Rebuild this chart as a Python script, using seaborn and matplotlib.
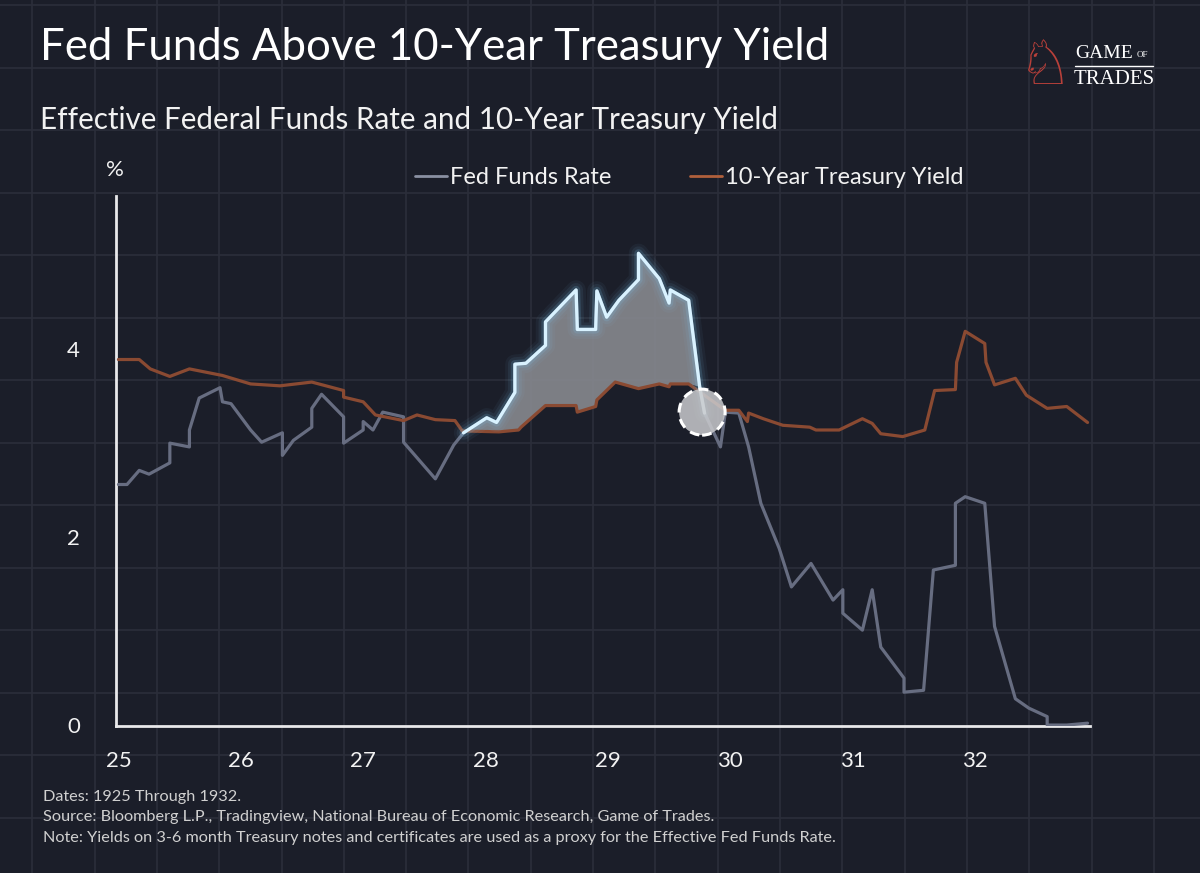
import numpy as np
import pandas as pd
import matplotlib
matplotlib.use("Agg")
import matplotlib.pyplot as plt
from matplotlib.patches import Ellipse
from matplotlib.lines import Line2D
import seaborn as sns

# Data (time in years since 1925)
fed_t = [0.00, 0.07, 0.17, 0.25, 0.42, 0.42, 0.58, 0.58, 0.66, 0.83, 0.85, 0.92, 1.08, 1.17,
         1.34, 1.34, 1.43, 1.58, 1.58, 1.66, 1.84, 1.84, 2.00, 2.00, 2.08, 2.16, 2.33, 2.33,
         2.59, 2.74, 2.82, 3.01, 3.09, 3.24, 3.24, 3.33, 3.49, 3.49, 3.74, 3.75, 3.90, 3.91,
         3.99, 4.09, 4.25, 4.25, 4.42, 4.50, 4.51, 4.66, 4.75, 4.79, 4.92, 4.96, 5.07, 5.15,
         5.25, 5.40, 5.50, 5.66, 5.84, 5.92, 5.92, 6.08, 6.16, 6.23, 6.42, 6.42, 6.58, 6.66,
         6.84, 6.84, 6.92, 7.08, 7.16, 7.33, 7.44, 7.59, 7.59, 7.75, 7.92]
fed_rate = [2.56, 2.56, 2.71, 2.67, 2.79, 3.00, 2.96, 3.14, 3.48, 3.59, 3.44, 3.42, 3.14, 3.01,
            3.11, 2.87, 3.03, 3.17, 3.37, 3.52, 3.28, 3.00, 3.14, 3.23, 3.14, 3.33, 3.28, 3.01,
            2.62, 2.98, 3.11, 3.27, 3.22, 3.54, 3.84, 3.85, 4.04, 4.29, 4.63, 4.21, 4.21, 4.62,
            4.34, 4.52, 4.74, 5.02, 4.75, 4.49, 4.63, 4.52, 3.60, 3.32, 2.96, 3.33, 3.32, 2.96,
            2.36, 1.88, 1.47, 1.72, 1.33, 1.44, 1.19, 1.01, 1.44, 0.83, 0.50, 0.35, 0.37, 1.65,
            1.70, 2.36, 2.43, 2.36, 1.05, 0.28, 0.18, 0.09, 0.00, 0.00, 0.02]

tsy_t = [0.00, 0.17, 0.26, 0.42, 0.58, 0.85, 1.08, 1.32, 1.58, 1.84, 1.84, 2.00, 2.10, 2.33,
         2.44, 2.59, 2.75, 2.81, 3.11, 3.27, 3.29, 3.49, 3.74, 3.75, 3.90, 3.91, 4.06, 4.25,
         4.42, 4.50, 4.51, 4.66, 4.96, 5.07, 5.14, 5.15, 5.27, 5.43, 5.65, 5.70, 5.89, 6.08,
         6.16, 6.23, 6.41, 6.59, 6.67, 6.84, 6.85, 6.92, 7.08, 7.09, 7.16, 7.33, 7.42, 7.59,
         7.75, 7.92]
tsy_yield = [3.89, 3.89, 3.79, 3.71, 3.79, 3.72, 3.63, 3.61, 3.65, 3.56, 3.49, 3.44, 3.30, 3.24,
             3.30, 3.25, 3.24, 3.13, 3.12, 3.14, 3.17, 3.40, 3.40, 3.33, 3.39, 3.46, 3.65, 3.58,
             3.63, 3.60, 3.63, 3.63, 3.35, 3.35, 3.23, 3.32, 3.26, 3.19, 3.17, 3.14, 3.14, 3.26,
             3.21, 3.10, 3.07, 3.14, 3.56, 3.57, 3.86, 4.19, 4.06, 3.86, 3.62, 3.69, 3.51, 3.37,
             3.39, 3.22]

year_ticks = [1925, 1926, 1927, 1928, 1929, 1930, 1931, 1932]
year_labels = ["25", "26", "27", "28", "29", "30", "31", "32"]
y_ticks = [0, 2, 4]

# period where fed funds sat above the 10y yield
hl_start, hl_end = 1927.82, 1929.79
cross_point = (1929.77, 3.33)

BG = "#1b1e29"
GRID = "#2b2e3a"
FED_C = "#676d81"
TSY_C = "#8a4a32"
TXT = "#f2f2f2"

fed = pd.DataFrame({"date": np.array(fed_t) + 1925, "rate": fed_rate})
tsy = pd.DataFrame({"date": np.array(tsy_t) + 1925, "rate": tsy_yield})

sns.set_style("dark")
plt.rcParams["font.family"] = ["Lato", "DejaVu Sans"]

fig = plt.figure(figsize=(12, 8.73), dpi=100, facecolor=BG)

# background grid over the whole figure
bg = fig.add_axes([0, 0, 1, 1], zorder=-5)
bg.set_facecolor(BG)
bg.set_xlim(0, 1200)
bg.set_ylim(873, 0)
bg.set_xticks(np.arange(32.4, 1200, 62.3))
bg.set_yticks(np.arange(5, 873, 62.5))
bg.grid(True, color=GRID, lw=1.2)
bg.tick_params(length=0, labelbottom=False, labelleft=False)
for s in bg.spines.values():
    s.set_visible(False)

ax = fig.add_axes([116 / 1200, 1 - 726 / 873, 974 / 1200, 530 / 873])
ax.set_facecolor("none")
xmin, xmax, ymin, ymax = 1924.98, 1932.94, -0.01, 5.63

sns.lineplot(data=fed, x="date", y="rate", ax=ax, color=FED_C, lw=2.3,
             estimator=None, sort=False, zorder=3)
sns.lineplot(data=tsy, x="date", y="rate", ax=ax, color=TSY_C, lw=2.3,
             estimator=None, sort=False, zorder=4)

# shaded gap between the two series
f_in = fed[(fed.date >= hl_start) & (fed.date <= 1929.75)]
t_in = tsy[(tsy.date >= 1927.81) & (tsy.date <= 1929.66)]
ax.fill(np.r_[f_in.date.values, t_in.date.values[::-1]],
        np.r_[f_in.rate.values, t_in.rate.values[::-1]],
        color="#87898f", alpha=0.9, lw=0, zorder=2)

# glowing highlight on the fed funds line
hl = fed[(fed.date >= hl_start) & (fed.date <= hl_end)]
for w, a in [(14, 0.05), (10, 0.08), (6, 0.16)]:
    ax.plot(hl.date, hl.rate, color="#7ec9f2", lw=w, alpha=a, zorder=5,
            solid_joinstyle="round", solid_capstyle="round")
ax.plot(hl.date, hl.rate, color="#d9f2ff", lw=2.4, zorder=6)

# crossover marker, sized in pixels so it stays round
w_data = 46 * (xmax - xmin) / 974
h_data = 46 * (ymax - ymin) / 530
ax.add_patch(Ellipse(cross_point, w_data, h_data, zorder=7,
                     facecolor="#c9cacd", alpha=0.85, edgecolor="none"))
ax.add_patch(Ellipse(cross_point, w_data, h_data, zorder=8, facecolor="none",
                     edgecolor="white", lw=2.2, linestyle=(0, (3.2, 2.2))))

ax.set_xlim(xmin, xmax)
ax.set_ylim(ymin, ymax)
ax.set_xticks(year_ticks)
ax.set_xticklabels(year_labels)
ax.set_yticks(y_ticks)
ax.set_xlabel("")
ax.set_ylabel("")
ax.grid(False)
ax.tick_params(axis="both", length=0, colors=TXT, labelsize=16)
ax.tick_params(axis="x", pad=18)
ax.tick_params(axis="y", pad=26)
for s in ["top", "right"]:
    ax.spines[s].set_visible(False)
for s in ["left", "bottom"]:
    ax.spines[s].set_visible(True)
    ax.spines[s].set_color("#e8e8ea")
    ax.spines[s].set_linewidth(2)

ax.text(-0.001, 1.05, "%", transform=ax.transAxes, ha="center", va="center",
        color=TXT, fontsize=16)

leg = ax.legend(handles=[Line2D([], [], color="#8a90a2", lw=2),
                         Line2D([], [], color="#b0603c", lw=2)],
                labels=["Fed Funds Rate", "10-Year Treasury Yield"],
                loc="center left", bbox_to_anchor=(0.307, 1.034), ncol=2,
                frameon=False, fontsize=17, handlelength=1.35, handletextpad=0.15,
                columnspacing=3.3, borderpad=0, borderaxespad=0)
for t in leg.get_texts():
    t.set_color(TXT)

# titles
fig.text(40 / 1200, 1 - 48 / 873, "Fed Funds Above 10-Year Treasury Yield",
         color="white", fontsize=31.5, va="center", ha="left")
fig.text(40 / 1200, 1 - 120 / 873, "Effective Federal Funds Rate and 10-Year Treasury Yield",
         color=TXT, fontsize=21.3, va="center", ha="left")

# logo
fig.text(1045 / 1200, 1 - 68 / 873, "\u2658", color="#b8403a", fontsize=44,
         ha="center", va="center", family="DejaVu Sans")
fig.text(1075 / 1200, 1 - 53 / 873, "GAME", color="white", fontsize=14,
         ha="left", va="center", family="Liberation Serif")
fig.text(1137 / 1200, 1 - 55 / 873, "OF", color="white", fontsize=6.5,
         ha="left", va="center", family="Liberation Serif")
fig.add_artist(Line2D([1075 / 1200, 1153 / 1200], [1 - 66 / 873, 1 - 66 / 873],
                      color="white", lw=1, transform=fig.transFigure))
fig.text(1074 / 1200, 1 - 79 / 873, "TRADES", color="white", fontsize=15,
         ha="left", va="center", family="Liberation Serif")

# footer
notes = ["Dates: 1925 Through 1932.",
         "Source: Bloomberg L.P., Tradingview, National Bureau of Economic Research, Game of Trades.",
         "Note: Yields on 3-6 month Treasury notes and certificates are used as a proxy for the Effective Fed Funds Rate."]
for i, line in enumerate(notes):
    fig.text(43 / 1200, 1 - (797 + 20.5 * i) / 873, line, color="#d0d0d0",
             fontsize=11.7, va="center", ha="left")

fig.savefig("out.png", dpi=100, facecolor=BG)
